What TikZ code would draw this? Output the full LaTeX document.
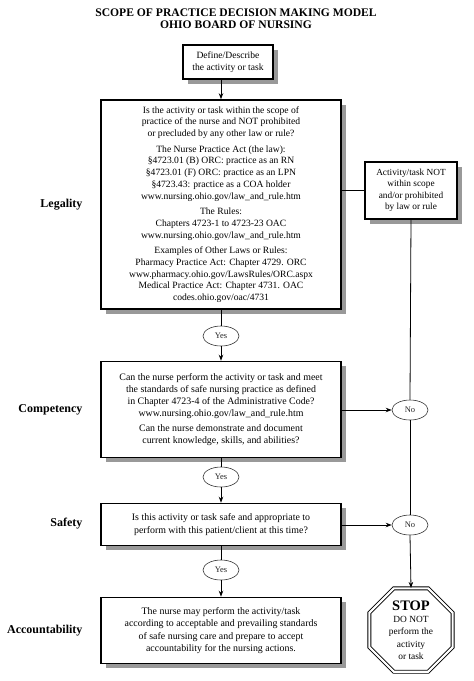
\documentclass[tikz,border=0pt]{standalone}
\usepackage{fontspec}
\setmainfont{Liberation Serif}
\usetikzlibrary{shapes.geometric,arrows.meta,shadows}
\begin{document}
\begin{tikzpicture}[x=1pt,y=-1pt,
  >={Stealth[length=6pt,width=4.5pt]},
  box/.style={draw, line width=1.6pt, fill=white, align=center, inner sep=0pt,
     drop shadow={shadow xshift=4.5pt, shadow yshift=-4.5pt, fill=black!40, opacity=1}},
  oval/.style={ellipse, draw=black!80, line width=0.6pt, minimum width=36pt, minimum height=20pt, inner sep=0pt, font=\fontsize{8.5}{9}\selectfont, text=black!85, fill=white},
  lbl/.style={font=\bfseries\fontsize{12}{14}\selectfont, anchor=east},
  conn/.style={line width=0.8pt},
  ttl/.style={font=\bfseries\fontsize{11.6}{13}\selectfont}]
\useasboundingbox (0,0) rectangle (474,681);

\node[ttl] (t1) at (236,13) {SCOPE OF PRACTICE DECISION MAKING MODEL};
\node[ttl] (t2) at (236,25) {OHIO BOARD OF NURSING};

\node[box, minimum width=90pt, minimum height=34pt, font=\fontsize{9.6}{11.5}\selectfont] (define) at (228,62) {Define/Describe\\the activity or task};

\node[box, minimum width=240pt, minimum height=209pt, font=\fontsize{9.6}{11.7}\selectfont] (legal) at (221,204.5) {Is the activity or task within the scope of\\ practice of the nurse and NOT prohibited\\ or precluded by any other law or rule?\\[4pt] The Nurse Practice Act (the law):\\ §4723.01 (B) ORC: practice as an RN\\ §4723.01 (F) ORC: practice as an LPN\\ §4723.43: practice as a COA holder\\ www.nursing.ohio.gov/law\_and\_rule.htm\\[4pt] The Rules:\\ Chapters 4723-1 to 4723-23 OAC\\ www.nursing.ohio.gov/law\_and\_rule.htm\\[4pt] Examples of Other Laws or Rules:\\ Pharmacy Practice Act: Chapter 4729. ORC\\ www.pharmacy.ohio.gov/LawsRules/ORC.aspx\\ Medical Practice Act: Chapter 4731. OAC\\ codes.ohio.gov/oac/4731};

\node[box, minimum width=92pt, minimum height=57pt, font=\fontsize{9.3}{11.5}\selectfont] (notbox) at (411,190.5) {Activity/task NOT\\ within scope\\ and/or prohibited\\ by law or rule};

\node[oval] (yes1) at (221,336) {Yes};

\node[box, minimum width=240pt, minimum height=96pt, font=\fontsize{9.9}{12}\selectfont] (comp) at (221,409.5) {Can the nurse perform the activity or task and meet\\ the standards of safe nursing practice as defined\\ in Chapter 4723-4 of the Administrative Code?\\ www.nursing.ohio.gov/law\_and\_rule.htm\\[3pt] Can the nurse demonstrate and document\\ current knowledge, skills, and abilities?};

\node[oval] (no1) at (410,410) {No};

\node[oval] (yes2) at (221,477) {Yes};

\node[box, minimum width=240pt, minimum height=42pt, font=\fontsize{9.9}{13}\selectfont] (safety) at (221,524.5) {Is this activity or task safe and appropriate to\\ perform with this patient/client at this time?};

\node[oval] (no2) at (410,525) {No};

\node[oval] (yes3) at (221,570) {Yes};

\node[box, minimum width=240pt, minimum height=66pt, font=\fontsize{9.9}{12.6}\selectfont] (acct) at (221,630.5) {The nurse may perform the activity/task\\ according to acceptable and prevailing standards\\ of safe nursing care and prepare to accept\\ accountability for the nursing actions.};

\node[regular polygon, regular polygon sides=8, minimum size=89pt, draw, line width=0.8pt, double, double distance=2.2pt, fill=white, inner sep=0pt, align=center, font=\fontsize{9.4}{12.3}\selectfont] (stop) at (411,630) {{\bfseries\fontsize{14.5}{14}\selectfont STOP}\\ DO NOT\\ perform the\\ activity\\ or task};

\node[lbl] (lleg) at (86,205) {Legality};
\node[lbl] (lcomp) at (86,409.5) {Competency};
\node[lbl] (lsaf) at (86,524) {Safety};
\node[lbl] (lacc) at (86,630.5) {Accountability};

\draw[conn,->] (define.south -| legal.north) -- (legal.north);
\draw[conn] (legal.south) -- (yes1.north);
\draw[conn,->] (yes1.south) -- (comp.north);
\draw[conn] (comp.south) -- (yes2.north);
\draw[conn,->] (yes2.south) -- (safety.north);
\draw[conn] (safety.south) -- (yes3.north);
\draw[conn,->] (yes3.south) -- (acct.north);
\draw[conn] (legal.east |- notbox.west) -- (notbox.west);
\draw[conn] (notbox.south) -- (no1.north);
\draw[conn] (no1.south) -- (no2.north);
\draw[conn,->] (no2.south) -- (stop.north);
\draw[conn,->] (comp.east |- no1.west) -- (no1.west);
\draw[conn,->] (safety.east |- no2.west) -- (no2.west);
\end{tikzpicture}
\end{document}
